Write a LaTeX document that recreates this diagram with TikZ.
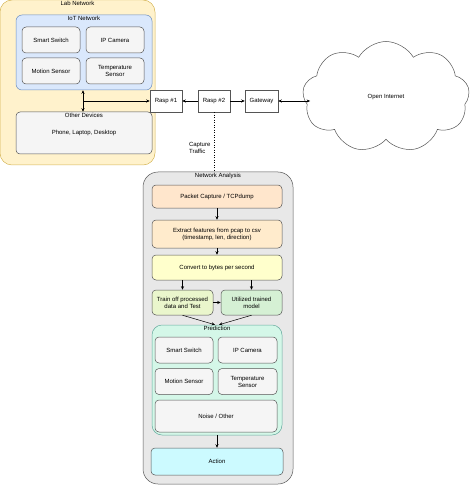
\documentclass[tikz,border=0pt]{standalone}
\usepackage{fontspec}
\setmainfont{Liberation Sans}
\usetikzlibrary{positioning,shapes.symbols,arrows.meta}

\definecolor{labfill}{HTML}{FFF2CC}
\definecolor{labline}{HTML}{D6B656}
\definecolor{iotfill}{HTML}{DAE8FC}
\definecolor{iotline}{HTML}{6C8EBF}
\definecolor{itemfill}{HTML}{F5F5F5}
\definecolor{itemline}{HTML}{555555}
\definecolor{nafill}{HTML}{E8E8E8}
\definecolor{pcapfill}{HTML}{FFE6CC}
\definecolor{extfill}{HTML}{FFEBCC}
\definecolor{convfill}{HTML}{FFFFCC}
\definecolor{trainfill}{HTML}{EAF6CC}
\definecolor{modelfill}{HTML}{D5F0D4}
\definecolor{predfill}{HTML}{D4F7E8}
\definecolor{predline}{HTML}{67AB9F}
\definecolor{actfill}{HTML}{CCFAFF}

\begin{document}
\begin{tikzpicture}[%
    x=1pt, y=-1pt,
    >={Stealth[length=3.5pt,width=3pt]},
    font=\fontsize{6}{7}\selectfont,
    line width=0.5pt,
    box/.style={draw=itemline, fill=itemfill, rounded corners=4pt, align=center, inner sep=1pt},
    small/.style={box, minimum width=58pt, minimum height=26pt},
    stage/.style={box, minimum width=130pt},
    rasp/.style={draw=itemline, fill=white, minimum width=32pt, minimum height=22pt, inner sep=1pt},
    title/.style={inner sep=1.5pt}
  ]
    \useasboundingbox (0,0) rectangle (474,486);

    % lab network
    \node[draw=labline, fill=labfill, rounded corners=12pt, minimum width=155pt, minimum height=165pt] (lab) at (77.5,82.5) {};
    \node[title, below=0pt of lab.north] (labt) {Lab Network};
    \node[draw=iotline, fill=iotfill, rounded corners=6pt, minimum width=136pt, minimum height=75pt] (iot) at (84,52.5) {};
    \node[title, below=0pt of iot.north] (iott) {IoT Network};
    \node[small] (sw1) at (51,40) {Smart Switch};
    \node[small] (cam1) at (115,40) {IP Camera};
    \node[small] (mot1) at (51,71) {Motion Sensor};
    \node[small] (temp1) at (115,71) {Temperature\\Sensor};
    \node[box, minimum width=136pt, minimum height=42pt] (other) at (84,133) {Phone, Laptop, Desktop};
    \node[title, below=0pt of other.north] (othert) {Other Devices};

    % path to the internet
    \node[rasp] (rasp1) at (166,101) {Rasp \#1};
    \node[rasp] (rasp2) at (214,101) {Rasp \#2};
    \node[rasp, minimum width=33pt] (gw) at (261.5,101) {Gateway};
    \node[cloud, draw=itemline, fill=white, cloud puffs=9, cloud puff arc=120, cloud ignores aspect,
          minimum width=167pt, minimum height=111pt] (net) at (386,97) {Open Internet};

    \coordinate (jn) at (83,101);
    \draw[<->] (iot.south -| jn) -- (other.north -| jn);
    \draw[->] (jn) -- (rasp1);
    \draw[->] (rasp2) -- (rasp1);
    \draw[->] (rasp2) -- (gw);
    \draw[<->] (gw) -- ([xshift=7pt]net.west |- gw);

    % network analysis
    \node[draw=itemline, fill=nafill, rounded corners=15pt, minimum width=150pt, minimum height=312pt] (na) at (218,328) {};
    \node[title, below=0pt of na.north] (nat) {Network Analysis};
    \draw[dotted] (rasp2.south) -- node[left, align=left, pos=0.6] (cap) {Capture\\Traffic} (rasp2.south |- na.north);

    \node[stage, fill=pcapfill, minimum height=23pt] (pcap) at (217,196.5) {Packet Capture / TCPdump};
    \node[stage, fill=extfill, minimum height=28pt] (extract) at (217,234) {Extract features from pcap to csv\\(timestamp, len, direction)};
    \node[stage, fill=convfill, minimum height=25pt] (convert) at (217,267.5) {Convert to bytes per second};
    \node[box, fill=trainfill, minimum width=61pt, minimum height=25pt] (train) at (182.5,302.5) {Train off processed\\data and Test};
    \node[box, fill=modelfill, minimum width=61pt, minimum height=25pt] (model) at (251.5,302.5) {Utilized trained\\model};

    \node[draw=predline, fill=predfill, rounded corners=10pt, minimum width=130pt, minimum height=110pt] (pred) at (217,380) {};
    \node[title, below=0pt of pred.north] (predt) {Prediction};
    \node[small] (sw2) at (184,350) {Smart Switch};
    \node[small, minimum width=59pt] (cam2) at (247.5,350) {IP Camera};
    \node[small] (mot2) at (184,381.5) {Motion Sensor};
    \node[small, minimum width=59pt] (temp2) at (247.5,381.5) {Temperature\\Sensor};
    \node[box, minimum width=122pt, minimum height=32pt] (noise) at (216,416) {Noise / Other};
    \node[stage, fill=actfill, minimum width=132pt, minimum height=27pt] (action) at (217,461.5) {Action};

    \draw[->] (pcap) -- (extract);
    \draw[->] (extract) -- (convert);
    \draw[->] (convert.south -| train) -- (train);
    \draw[->] (convert.south -| model) -- (model);
    \draw[->] (train) -- (model);
    \draw[->] (train.south) -- ([xshift=-2pt]pred.north);
    \draw[->] (model.south) -- ([xshift=2pt]pred.north);
    \draw[->] (pred) -- (action);
  \end{tikzpicture}
\end{document}
